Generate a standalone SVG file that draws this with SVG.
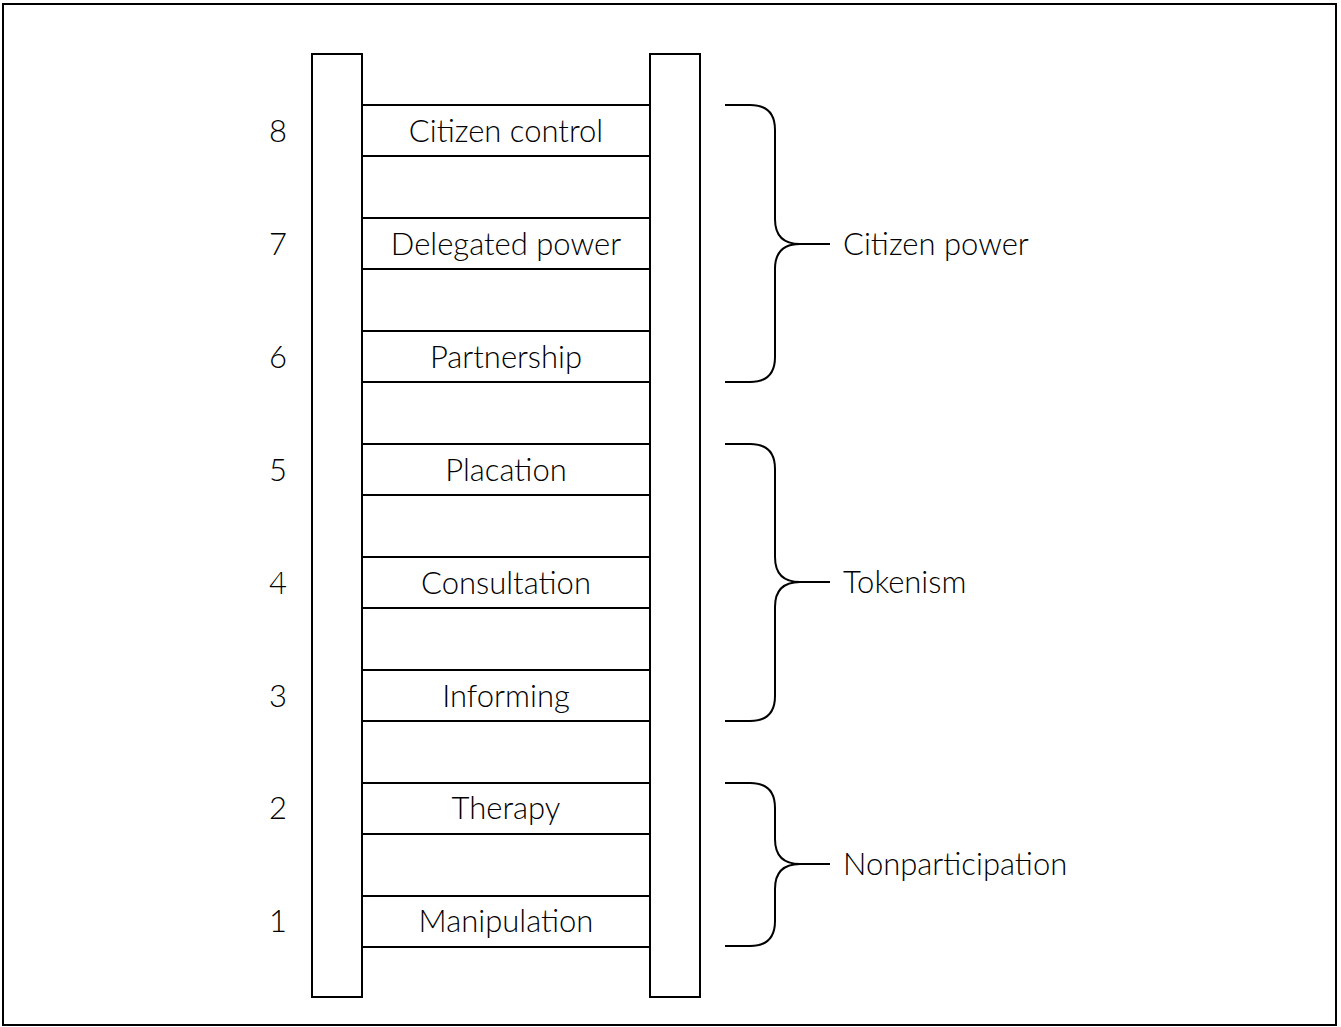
<svg xmlns="http://www.w3.org/2000/svg" width="1341" height="1027" viewBox="0 0 1341 1027">
<style>
.s{fill:none;stroke:#000;stroke-width:2}
.r{fill:#fff;stroke:#000;stroke-width:2}
text{font-family:"Lato","Noto Sans",sans-serif;font-weight:300;font-size:31px;fill:#000}
.c{text-anchor:middle}
</style>
<rect x="0" y="0" width="1341" height="1027" fill="#fff"/>
<rect x="3" y="4" width="1333" height="1021" class="s"/>
<g id="rails">
<rect x="312" y="54" width="50" height="943" class="r"/>
<rect x="650" y="54" width="50" height="943" class="r"/>
</g>
<g id="rung8"><path class="s" d="M362,105H650M362,156H650"/><text class="c" x="506" y="142">Citizen control</text><text class="c" x="278" y="142">8</text></g>
<g id="rung7"><path class="s" d="M362,218H650M362,269H650"/><text class="c" x="506" y="255">Delegated power</text><text class="c" x="278" y="255">7</text></g>
<g id="rung6"><path class="s" d="M362,331H650M362,382H650"/><text class="c" x="506" y="368">Partnership</text><text class="c" x="278" y="368">6</text></g>
<g id="rung5"><path class="s" d="M362,444H650M362,495H650"/><text class="c" x="506" y="481">Placation</text><text class="c" x="278" y="481">5</text></g>
<g id="rung4"><path class="s" d="M362,557H650M362,608H650"/><text class="c" x="506" y="594">Consultation</text><text class="c" x="278" y="594">4</text></g>
<g id="rung3"><path class="s" d="M362,670H650M362,721H650"/><text class="c" x="506" y="707">Informing</text><text class="c" x="278" y="707">3</text></g>
<g id="rung2"><path class="s" d="M362,783H650M362,834H650"/><text class="c" x="506" y="819">Therapy</text><text class="c" x="278" y="819">2</text></g>
<g id="rung1"><path class="s" d="M362,896H650M362,947H650"/><text class="c" x="506" y="932">Manipulation</text><text class="c" x="278" y="932">1</text></g>
<g id="connectors">
<path class="s" d="M725,105H750Q775,105 775,130V219Q775,244 800,244H830M725,382H750Q775,382 775,357V269Q775,244 800,244"/>
<path class="s" d="M725,444H750Q775,444 775,469V557Q775,582 800,582H830M725,721H750Q775,721 775,696V607Q775,582 800,582"/>
<path class="s" d="M725,783H750Q775,783 775,808V839Q775,864 800,864H830M725,946H750Q775,946 775,921V889Q775,864 800,864"/>
</g>
<g id="groups">
<text x="843" y="255">Citizen power</text>
<text x="843" y="593">Tokenism</text>
<text x="843" y="875">Nonparticipation</text>
</g>
</svg>
